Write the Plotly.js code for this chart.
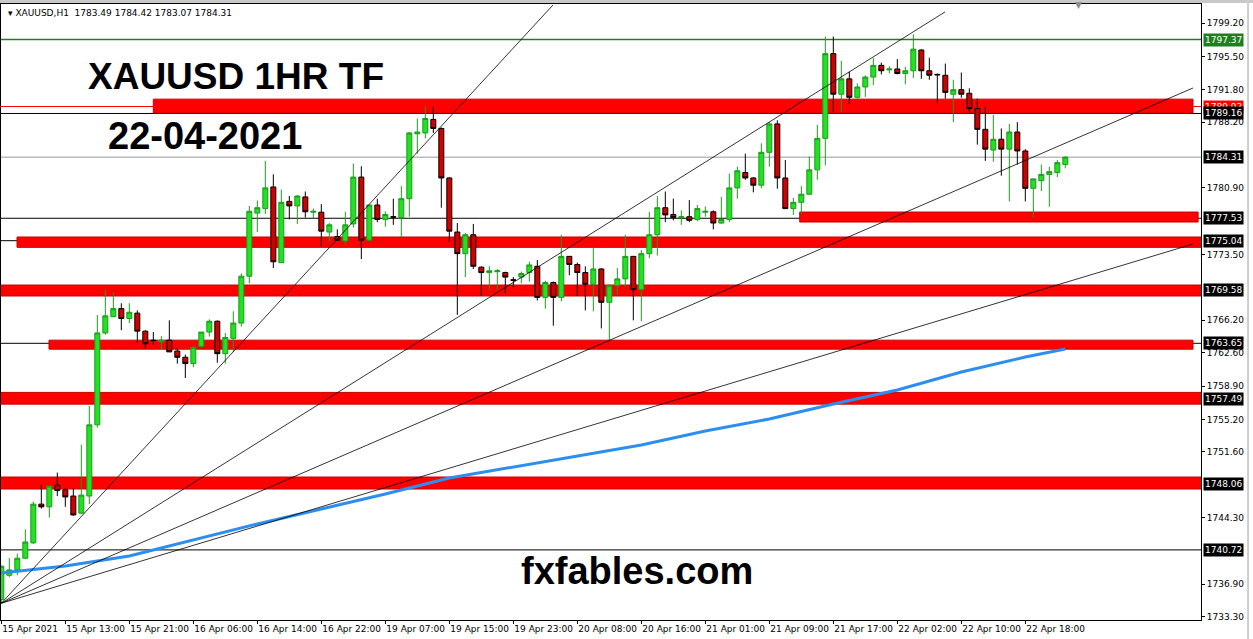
<!DOCTYPE html>
<html><head><meta charset="utf-8">
<script src="https://cdn.plot.ly/plotly-3.0.1.min.js"></script>
<style>html,body{margin:0;padding:0;background:#fff;}#chart{width:1253px;height:639px;}</style>
</head><body><div id="chart"></div>
<script>
// ---- data (XAUUSD H1, bar 0 = 15 Apr 05:00) ----
const OPEN = [1735.2,1737.9,1738.5,1739.8,1741.5,1745.8,1745.5,1747.9,1747.4,1746.7,1744.8,1746.7,1754.6,1764.8,1766.6,1767.5,1766.4,1767.0,1765.0,1764.0,
1763.8,1764.0,1762.8,1762.1,1761.4,1763.3,1764.9,1766.1,1762.5,1764.2,1765.9,1771.1,1778.1,1778.6,1781.0,1772.6,1779.4,1778.9,1779.9,1778.2,
1778.2,1776.0,1775.5,1775.0,1776.9,1782.1,1775.1,1779.0,1777.4,1777.7,1777.6,1779.7,1786.9,1787.0,1788.5,1787.5,1782.0,1776.0,1773.6,1775.7,
1772.1,1771.5,1771.6,1771.5,1770.7,1771.0,1771.5,1772.2,1768.75,1770.4,1768.75,1773.3,1772.4,1771.5,1770.2,1771.9,1768.2,1770.05,1770.8,1773.3,
1769.6,1773.6,1775.7,1778.7,1777.95,1777.6,1777.7,1777.4,1778.2,1778.25,1777.0,1777.4,1780.9,1782.6,1782.0,1781.2,1784.85,1788.0,1782.0,1778.6,
1779.3,1780.2,1782.9,1786.4,1795.8,1791.3,1793.0,1790.95,1792.1,1793.2,1794.5,1794.0,1794.1,1793.6,1793.9,1796.2,1793.9,1793.5,1793.4,1791.3,
1791.8,1791.4,1789.7,1787.4,1785.1,1786.3,1785.2,1787.1,1785.0,1780.85,1781.7,1782.4,1782.6,1783.49];
const HIGH = [1739.0,1739.8,1740.3,1743.0,1746.1,1747.9,1747.8,1749.3,1747.6,1747.6,1752.4,1756.7,1766.8,1769.6,1769.3,1768.1,1768.1,1767.3,1765.1,1764.9,
1764.45,1766.2,1763.1,1762.4,1763.4,1764.9,1766.3,1766.2,1764.8,1767.2,1771.4,1778.9,1779.5,1783.9,1782.4,1780.7,1780.0,1780.1,1780.5,1778.6,
1779.1,1777.0,1776.3,1778.25,1783.6,1783.3,1779.0,1779.7,1778.3,1779.7,1781.1,1787.1,1788.6,1790.0,1789.9,1787.6,1782.1,1777.0,1775.9,1776.9,
1772.2,1772.2,1771.9,1771.6,1771.0,1771.6,1772.7,1772.9,1770.6,1770.5,1775.7,1773.3,1772.6,1772.2,1774.3,1772.0,1770.2,1772.0,1775.7,1773.3,
1774.0,1778.25,1780.0,1780.5,1779.7,1778.4,1779.55,1779.0,1778.85,1778.4,1779.9,1782.5,1783.25,1784.7,1782.1,1785.85,1788.2,1788.4,1784.0,1779.8,
1781.1,1784.4,1787.9,1797.7,1797.7,1795.0,1793.8,1792.5,1793.4,1795.3,1794.8,1794.4,1795.2,1794.35,1797.95,1796.3,1795.35,1793.6,1794.7,1792.9,
1793.7,1791.95,1790.8,1789.9,1789.0,1787.5,1788.0,1788.2,1785.2,1781.9,1783.5,1783.25,1784.0,1784.42];
const LOW = [1734.8,1737.7,1737.9,1739.7,1741.4,1745.3,1744.3,1746.7,1745.5,1744.5,1744.7,1745.8,1754.3,1764.6,1766.6,1765.1,1765.9,1763.7,1763.1,1763.5,
1763.0,1762.7,1761.4,1759.8,1761.0,1763.1,1764.4,1761.5,1761.4,1762.7,1765.5,1770.3,1776.0,1778.0,1772.0,1772.6,1777.4,1776.9,1777.6,1777.5,
1774.4,1775.0,1775.0,1774.6,1776.5,1773.0,1775.0,1777.1,1776.6,1776.8,1775.4,1777.7,1784.7,1786.4,1787.0,1778.7,1774.9,1766.8,1771.0,1771.9,
1768.9,1769.6,1769.6,1769.2,1769.9,1770.3,1770.5,1768.4,1767.5,1765.6,1768.3,1771.2,1768.9,1767.3,1767.2,1765.3,1764.0,1769.0,1769.9,1766.2,
1766.1,1773.1,1773.4,1777.1,1777.3,1776.8,1777.1,1777.2,1777.7,1776.3,1776.9,1777.1,1779.7,1781.8,1780.4,1780.85,1783.25,1780.8,1778.6,1777.9,
1778.0,1780.1,1781.8,1783.4,1789.3,1789.3,1790.2,1790.8,1791.0,1792.3,1793.5,1793.6,1793.5,1792.4,1793.1,1793.0,1792.9,1790.3,1790.8,1788.2,
1790.9,1789.3,1785.7,1783.9,1783.8,1782.25,1779.4,1783.5,1779.4,1777.6,1780.55,1778.8,1782.1,1783.07];
const CLOSE = [1738.9,1738.5,1739.8,1741.6,1745.8,1745.5,1747.8,1747.3,1746.6,1744.6,1746.8,1754.6,1764.8,1766.7,1767.5,1766.4,1767.1,1765.0,1763.6,1763.95,
1764.0,1762.7,1762.1,1761.4,1763.2,1764.9,1766.1,1762.5,1764.3,1765.9,1771.1,1778.3,1778.7,1780.9,1772.7,1779.3,1778.9,1780.0,1778.25,1778.3,
1776.1,1776.8,1775.1,1776.8,1782.1,1775.1,1779.0,1777.4,1777.95,1777.65,1779.7,1787.0,1787.1,1788.6,1787.5,1782.0,1776.1,1773.6,1775.7,1772.2,
1771.5,1771.7,1771.7,1771.0,1770.65,1771.4,1772.35,1768.75,1770.4,1768.75,1773.3,1772.4,1771.5,1770.2,1771.9,1768.2,1770.05,1770.8,1773.3,1769.6,
1773.6,1775.7,1778.7,1777.9,1777.6,1777.7,1777.3,1778.6,1778.3,1777.0,1777.4,1780.9,1782.8,1782.0,1781.2,1784.85,1788.0,1782.0,1778.6,1779.3,
1780.2,1782.9,1786.4,1795.8,1791.3,1793.0,1790.95,1792.1,1793.2,1794.5,1793.9,1794.1,1793.6,1793.9,1796.3,1793.9,1793.4,1793.45,1791.5,1791.8,
1791.3,1789.7,1787.4,1785.2,1786.3,1785.2,1787.1,1785.0,1780.85,1781.9,1782.4,1782.7,1783.7,1784.31];

// moving average (read at every 8th bar)
const MA_BARS = [0,8,16,24,32,40,48,56,64,72,80,88,96,104,112,120,128,133];
const MA_VALS = [1738.16,1738.93,1740.04,1741.82,1743.6,1745.26,1746.93,1748.7,1749.92,1751.14,1752.37,1753.92,1755.25,1756.92,1758.47,1760.47,1762.13,1763.02];

// x-axis labels
const X_TICK_BARS = [0,8,16,24,32,40,48,56,64,72,80,88,96,104,112,120,128];
const X_TICK_TEXT = ["15 Apr 2021","15 Apr 13:00","15 Apr 21:00","16 Apr 06:00","16 Apr 14:00","16 Apr 22:00","19 Apr 07:00","19 Apr 15:00","19 Apr 23:00","20 Apr 08:00","20 Apr 16:00","21 Apr 01:00","21 Apr 09:00","21 Apr 17:00","22 Apr 02:00","22 Apr 10:00","22 Apr 18:00"];
// y-axis labels
const Y_TICKS = [1799.20,1795.50,1791.80,1788.20,1780.90,1773.50,1766.20,1762.60,1758.90,1755.20,1751.60,1744.30,1736.90,1733.30];

// horizontal levels
const LEVELS = [1797.37,1789.93,1789.16,1784.31,1777.53,1775.04,1769.58,1763.65,1757.49,1748.06,1740.72];
const LEVEL_KIND = ["green","red","black","grey","black","black","black","black","black","black","black"];

// zones (rectangles)
const ZONE_LOW  = [1789.2,1777.11,1774.3,1768.9,1763.0,1756.9,1747.48];
const ZONE_HIGH = [1790.75,1778.22,1775.45,1770.12,1764.0,1758.2,1748.81];
const ZONE_FROM = [19,99.8,1.96,-0.5,5.96,-0.5,-0.5];
const ZONE_TO   = [148.96,149.6,151,151,148.96,151,151];

// fan lines (from a common anchor)
const FAN_FROM = [0,1734.8];
const FAN_TO_BAR = [68.96,117.96,148.96,148.96];
const FAN_TO_PRICE = [1801.2,1800.43,1791.99,1774.67];

// ---- build ----
const bars = OPEN.map((_, i) => i);
const FONT = "DejaVu Sans, Tahoma, sans-serif";
const colorOf = {green:'#1f7f1f', red:'#ff0000', black:'#000000', grey:'#9a9a9a'};
const boxColor = {green:'#1f7f1f', red:'#ff0000', black:'#000000', grey:'#000000'};

const shapes = [];
ZONE_LOW.forEach((lo, k) => shapes.push({type:'rect', xref:'x', yref:'y', x0:ZONE_FROM[k], x1:ZONE_TO[k], y0:lo, y1:ZONE_HIGH[k],
  fillcolor:'#ff0000', line:{color:'#c80000', width:1}, layer:'below'}));
LEVELS.forEach((v, k) => shapes.push({type:'line', xref:'paper', yref:'y', x0:0, x1:1, y0:v, y1:v,
  line:{color:colorOf[LEVEL_KIND[k]], width: LEVEL_KIND[k]==='green' ? 1.6 : 1}, layer:'below'}));
FAN_TO_BAR.forEach((b, k) => shapes.push({type:'line', xref:'x', yref:'y', x0:FAN_FROM[0], y0:FAN_FROM[1], x1:b, y1:FAN_TO_PRICE[k],
  line:{color:'#000000', width:0.8}, layer:'above'}));
// window chrome
shapes.push({type:'rect', xref:'paper', yref:'paper', x0:-0.01, x1:1.05, y0:1.0016, y1:1.01, fillcolor:'#c8c8c8', line:{width:0}});
shapes.push({type:'line', xref:'paper', yref:'paper', x0:1.0392, x1:1.0392, y0:-0.04, y1:1.01, line:{color:'#d0d0d0', width:2}});

const annotations = [];
LEVELS.forEach((v, k) => annotations.push({xref:'paper', yref:'y', x:1, y:v, xanchor:'left', yanchor:'middle', xshift:2,
  text:v.toFixed(2), showarrow:false, bgcolor:boxColor[LEVEL_KIND[k]], borderpad:1,
  font:{family:FONT, size:9, color:'#ffffff'}}));
annotations.push({xref:'paper', yref:'paper', x:0.004, y:0.985, xanchor:'left', yanchor:'middle', showarrow:false,
  text:'▾ XAUUSD,H1  1783.49 1784.42 1783.07 1784.31', font:{family:FONT, size:9, color:'#000'}});
annotations.push({xref:'paper', yref:'paper', x:0.8975, y:0.998, xanchor:'center', yanchor:'middle', showarrow:false,
  text:'▼', font:{family:FONT, size:9, color:'#8a8a8a'}});
annotations.push({xref:'paper', yref:'paper', x:0.0705, y:0.883, xanchor:'left', yanchor:'middle', showarrow:false,
  text:'<b>XAUUSD 1HR TF</b>', font:{family:'Liberation Sans, Arial, sans-serif', size:37, color:'#000'}});
annotations.push({xref:'paper', yref:'paper', x:0.0875, y:0.786, xanchor:'left', yanchor:'middle', showarrow:false,
  text:'<b>22-04-2021</b>', font:{family:'Liberation Sans, Arial, sans-serif', size:38, color:'#000'}});
annotations.push({xref:'paper', yref:'paper', x:0.432, y:0.0795, xanchor:'left', yanchor:'middle', showarrow:false,
  text:'<b>fxfables.com</b>', font:{family:'Liberation Sans, Arial, sans-serif', size:38, color:'#000'}});

const traces = [
  {type:'candlestick', x:bars, open:OPEN, high:HIGH, low:LOW, close:CLOSE,
   increasing:{line:{color:'#1f9a1f', width:1}, fillcolor:'#22e022'},
   decreasing:{line:{color:'#000000', width:1}, fillcolor:'#d40000'},
   whiskerwidth:0, hoverinfo:'skip', showlegend:false},
  {type:'scatter', mode:'lines', x:MA_BARS, y:MA_VALS, line:{color:'#2b8ef0', width:3}, hoverinfo:'skip', showlegend:false}
];

const layout = {
  width:1253, height:639,
  margin:{l:1, r:52, t:4, b:19, pad:0},
  paper_bgcolor:'#ffffff', plot_bgcolor:'#ffffff',
  showlegend:false, hovermode:false, dragmode:false,
  boxgap:0.2, boxgroupgap:0.22,
  xaxis:{range:[-0.04,149.96], autorange:false, rangeslider:{visible:false},
    tickmode:'array', tickvals:X_TICK_BARS, ticktext:X_TICK_TEXT, tickangle:0,
    ticks:'outside', ticklen:3, tickcolor:'#000', ticklabelposition:'outside right',
    showgrid:false, zeroline:false, showline:true, linecolor:'#000', linewidth:1, mirror:true,
    tickfont:{family:FONT, size:9, color:'#000'}, fixedrange:true},
  yaxis:{range:[1732.94,1801.31], autorange:false, side:'right',
    tickmode:'array', tickvals:Y_TICKS, ticktext:Y_TICKS.map(v => v.toFixed(2)),
    ticks:'outside', ticklen:3, tickcolor:'#000',
    showgrid:false, zeroline:false, showline:true, linecolor:'#000', linewidth:1, mirror:true,
    tickfont:{family:FONT, size:9, color:'#000'}, fixedrange:true},
  shapes:shapes, annotations:annotations
};
Plotly.newPlot('chart', traces, layout, {staticPlot:true, displayModeBar:false});
</script></body></html>
